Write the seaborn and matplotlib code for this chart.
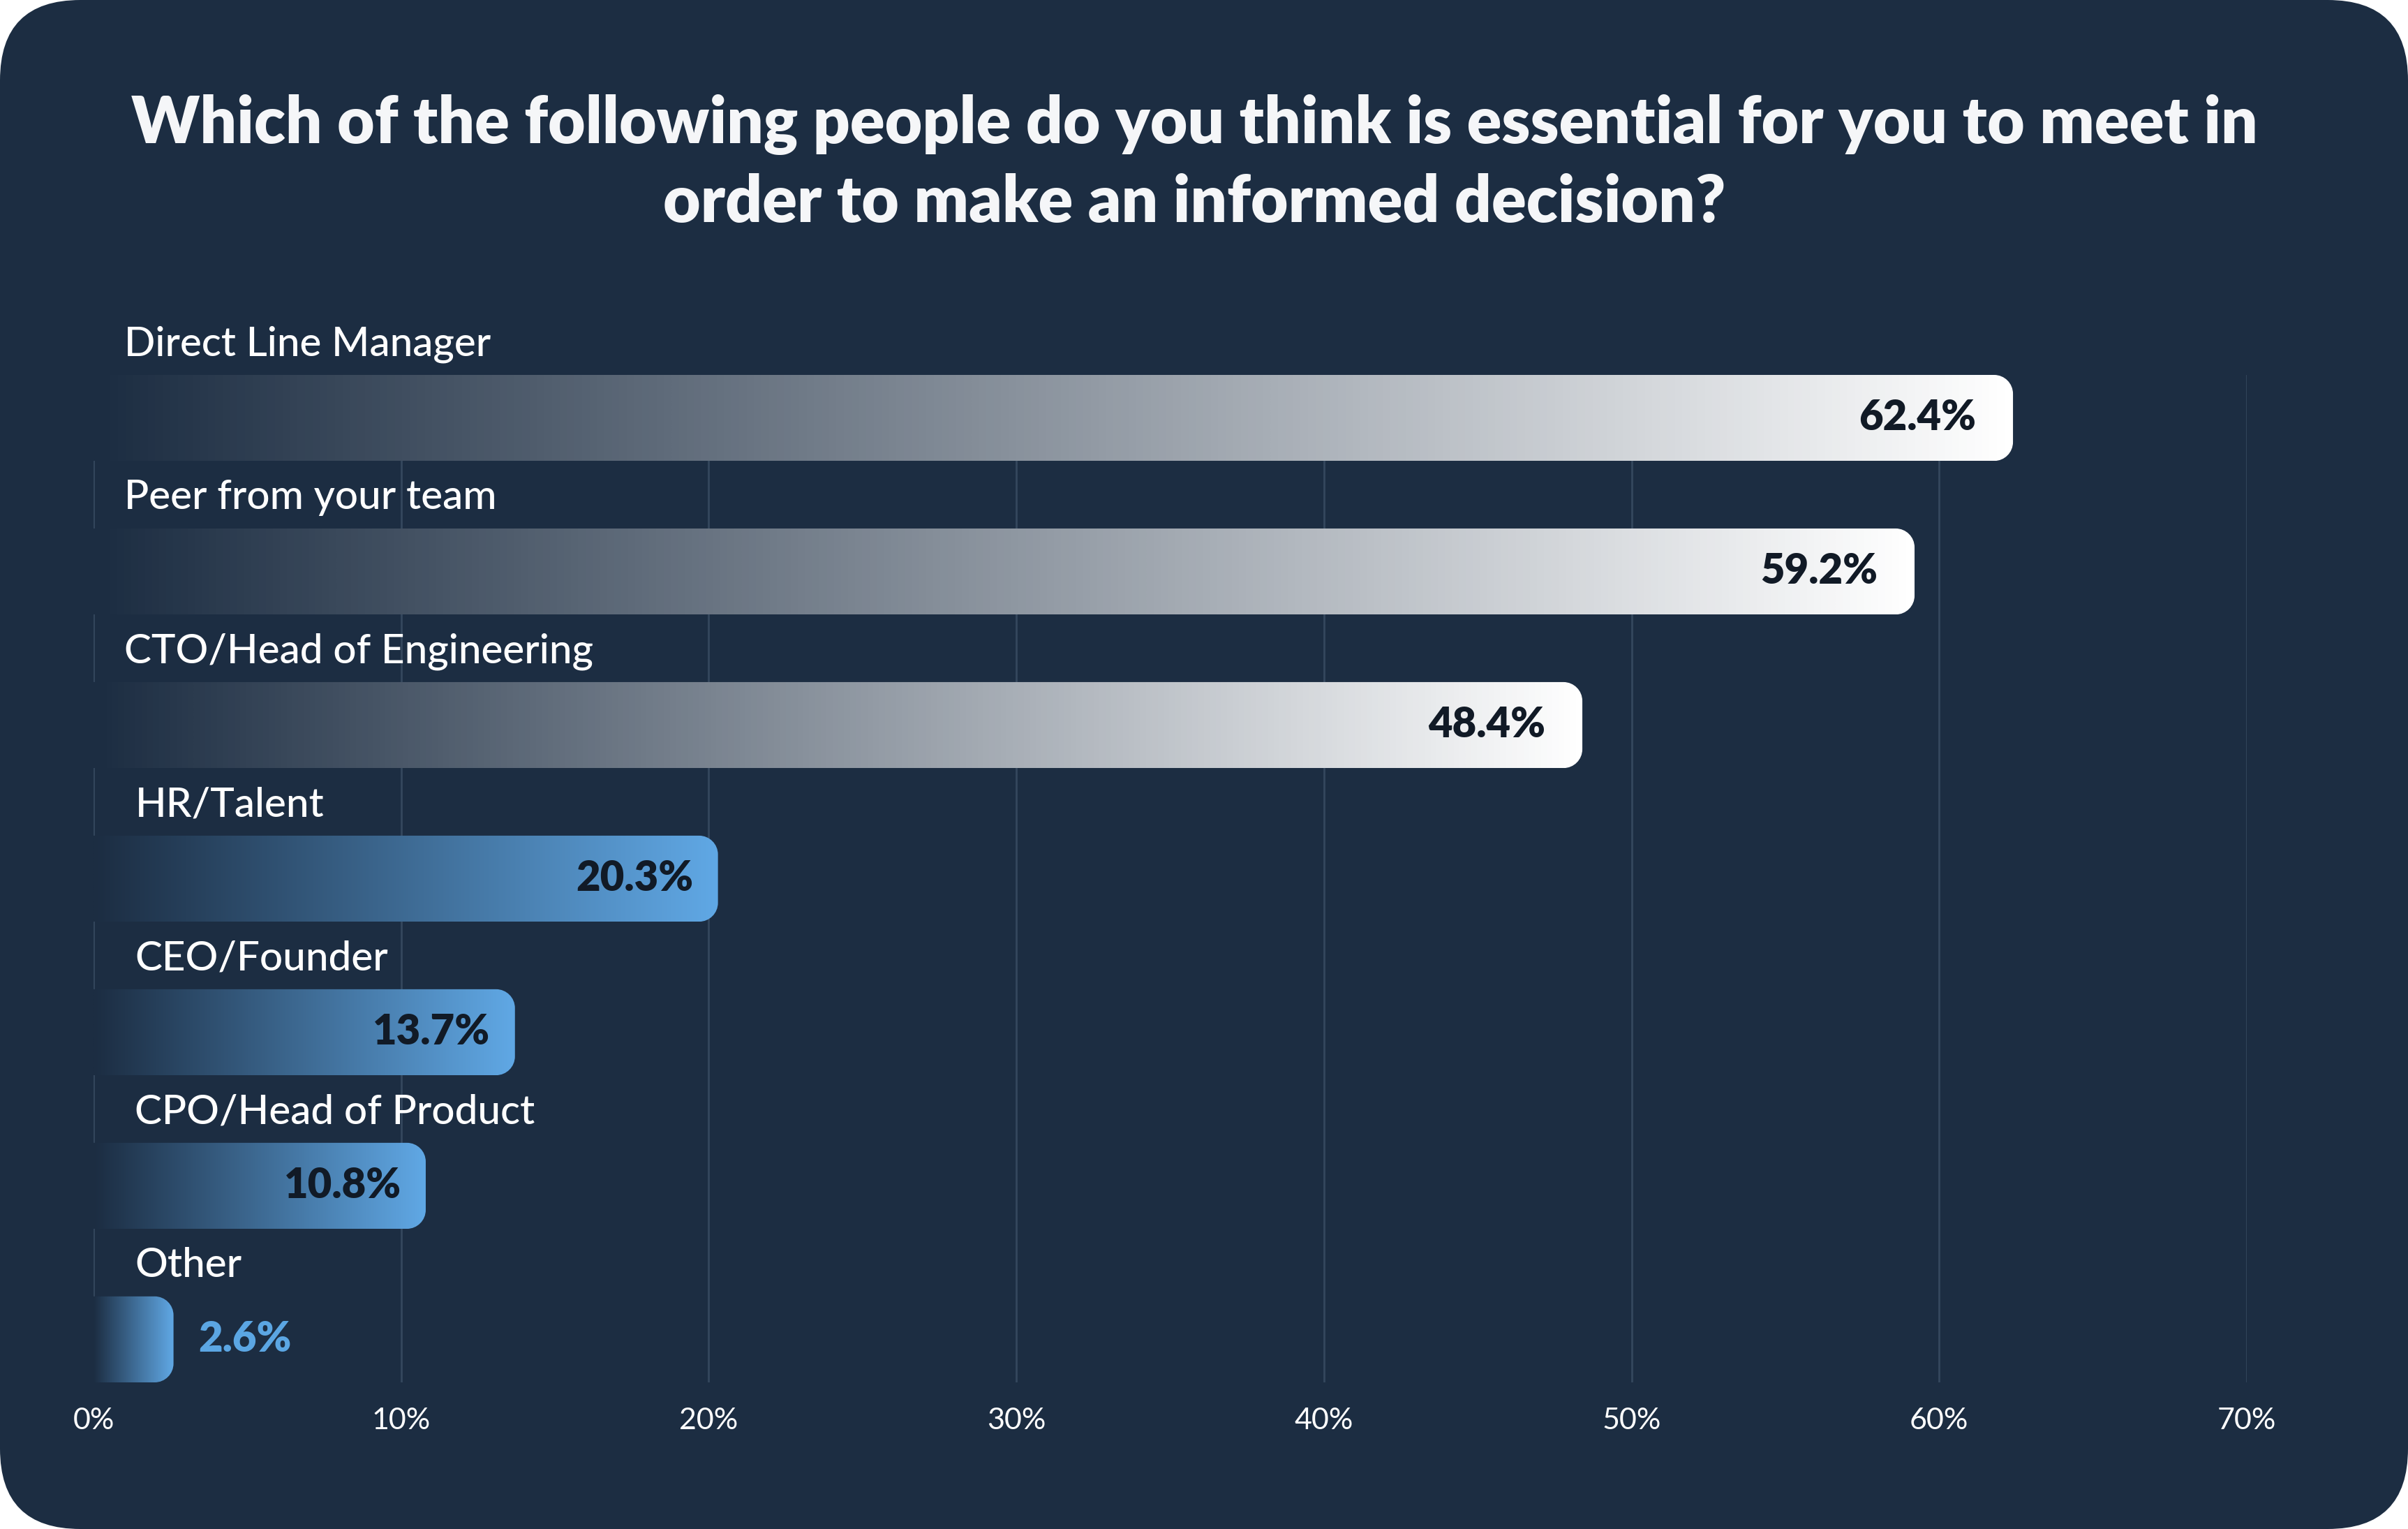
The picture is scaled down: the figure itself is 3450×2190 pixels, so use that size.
import numpy as np
import pandas as pd
import matplotlib
matplotlib.use('Agg')
import matplotlib.pyplot as plt
import seaborn as sns
from matplotlib.patches import FancyBboxPatch, PathPatch
from matplotlib.path import Path
from matplotlib.colors import LinearSegmentedColormap

# data
categories = ['Direct Line Manager', 'Peer from your team', 'CTO/Head of Engineering',
              'HR/Talent', 'CEO/Founder', 'CPO/Head of Product', 'Other']
values = [62.4, 59.2, 48.4, 20.3, 13.7, 10.8, 2.6]
tick_values = [0, 10, 20, 30, 40, 50, 60, 70]
title = ('Which of the following people do you think is essential for you to meet in\n'
         'order to make an informed decision?')

df = pd.DataFrame({'category': categories, 'value': values})

# style
NAVY = '#1c2d42'
GRID = '#34475d'
bar_ends = ['#ffffff'] * 3 + ['#60a8e5'] * 4
label_off = [1.0] * 3 + [1.35] * 4
val_pad = [1.2] * 3 + [0.8] * 4

sns.set_theme(style='white')
plt.rcParams['font.family'] = ['Lato', 'DejaVu Sans']

fig = plt.figure(figsize=(34.5, 21.9), dpi=100, facecolor='white')
card = FancyBboxPatch((0, 0), 34.5, 21.9, boxstyle='round,pad=0,rounding_size=1.15',
                      transform=fig.dpi_scale_trans, facecolor=NAVY, edgecolor='none',
                      zorder=-1)
fig.add_artist(card)

ax = fig.add_axes([134 / 3450, 1 - 1980 / 2190, 3085 / 3450, 1443 / 2190])
ax.set_facecolor('none')

sns.barplot(data=df, x='value', y='category', orient='h', width=0.56,
            color='white', ax=ax)

ax.set_xlim(0, 70)
ax.set_ylim(6.28, -0.28)

# px per data unit, for the rounded corners
p0, p1 = ax.transData.transform([(0, 0), (1, 1)])
rx = 27 / abs(p1[0] - p0[0])
ry = 27 / abs(p1[1] - p0[1])
k = 0.5523

grad = np.linspace(0, 1, 512).reshape(1, -1)
for i, bar in enumerate(list(ax.patches)):
    x0 = bar.get_x()
    w = bar.get_width()
    ya = bar.get_y()
    yb = ya + bar.get_height()
    x1 = x0 + w
    bar.set_visible(False)
    r = min(rx, w / 2)
    verts = [(x0, ya), (x1 - r, ya),
             (x1 - r + k * r, ya), (x1, ya + ry - k * ry), (x1, ya + ry),
             (x1, yb - ry),
             (x1, yb - ry + k * ry), (x1 - r + k * r, yb), (x1 - r, yb),
             (x0, yb), (x0, ya)]
    codes = [Path.MOVETO, Path.LINETO,
             Path.CURVE4, Path.CURVE4, Path.CURVE4,
             Path.LINETO,
             Path.CURVE4, Path.CURVE4, Path.CURVE4,
             Path.LINETO, Path.CLOSEPOLY]
    clip = PathPatch(Path(verts, codes), transform=ax.transData,
                     facecolor='none', edgecolor='none')
    ax.add_patch(clip)
    cmap = LinearSegmentedColormap.from_list('g%d' % i, [NAVY, bar_ends[i]])
    im = ax.imshow(grad, extent=(x0, x1, yb, ya), cmap=cmap, aspect='auto',
                   interpolation='bicubic', zorder=2)
    im.set_clip_path(clip)

    yc = (ya + yb) / 2
    ax.text(label_off[i], yc - 0.48, categories[i], color='white', fontsize=42,
            fontweight='medium', ha='left', va='center', clip_on=False)
    if values[i] > 5:
        ax.text(x1 - val_pad[i], yc, f'{values[i]}%', color='#111a26', fontsize=43,
                fontweight='heavy', ha='right', va='center', zorder=3)
    else:
        ax.text(x1 + 0.8, yc, f'{values[i]}%', color='#5ba6e3', fontsize=43,
                fontweight='heavy', ha='left', va='center', zorder=3)

ax.set_xlim(0, 70)
ax.set_ylim(6.28, -0.28)

ax.set_xticks(tick_values)
ax.set_xticklabels([f'{t}%' for t in tick_values], color='white', fontsize=31)
ax.tick_params(axis='x', length=0, pad=26)
ax.set_yticks([])
ax.set_xlabel('')
ax.set_ylabel('')
for s in ax.spines.values():
    s.set_visible(False)
ax.grid(axis='x', color=GRID, linewidth=2)
ax.set_axisbelow(True)

fig.text(0.496, 0.893, title, color='#f5f6f8', fontsize=66.5, fontweight='heavy',
         ha='center', va='center', multialignment='center', linespacing=1.37)

fig.savefig('out.png', dpi=100, facecolor='white')
